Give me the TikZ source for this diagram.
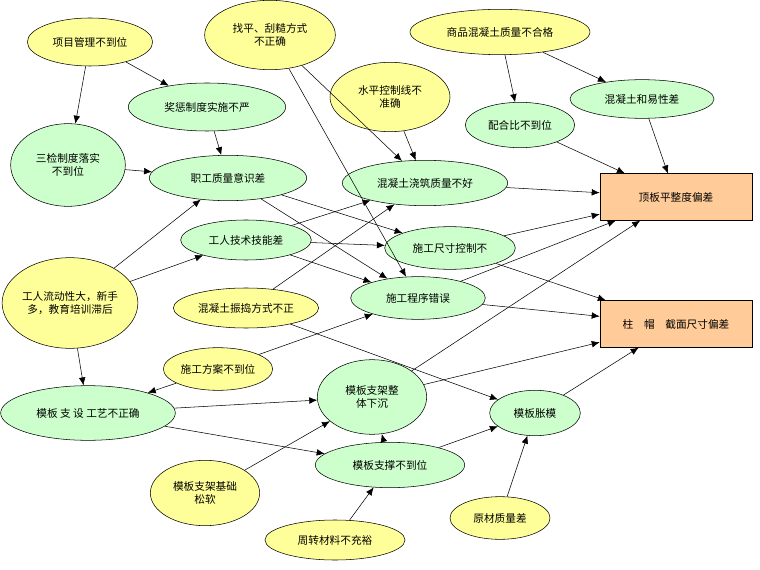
\documentclass[tikz,border=0pt]{standalone}
\usepackage{fontspec}
\setmainfont{Noto Sans CJK SC}
\usetikzlibrary{shapes.geometric,arrows.meta}
\definecolor{cyel}{RGB}{255,255,153}
\definecolor{cgrn}{RGB}{204,255,204}
\definecolor{cora}{RGB}{255,204,153}
\tikzset{
	cause/.style={ellipse, draw, fill=cyel, inner sep=0pt, font=\footnotesize, align=center},
	mid/.style={ellipse, draw, fill=cgrn, inner sep=0pt, font=\footnotesize, align=center},
	effect/.style={rectangle, draw, fill=cora, font=\footnotesize, minimum width=114pt, minimum height=35pt},
	link/.style={-{Latex[length=6pt,width=5pt]}}
}
\begin{document}
\begin{tikzpicture}[x=0.75pt, y=-0.75pt]
		\useasboundingbox (0,0) rectangle (760,570);
		% top row
		\node[cause, minimum width=94pt, minimum height=36pt] (xm) at (90,42) {项目管理不到位};
		\node[cause, minimum width=98pt, minimum height=52pt] (zp) at (270,35) {找平、刮糙方式\\不正确};
		\node[cause, minimum width=135pt, minimum height=34pt] (sp) at (500,32) {商品混凝土质量不合格};
		\node[cause, minimum width=90pt, minimum height=52pt] (sk) at (390,97) {水平控制线不\\准确};
		% middle nodes
		\node[mid, minimum width=118pt, minimum height=36pt] (jc) at (207,107) {奖惩制度实施不严};
		\node[mid, minimum width=86pt, minimum height=62pt] (sj) at (68,165) {三检制度落实\\不到位};
		\node[mid, minimum width=118pt, minimum height=34pt] (zg) at (228,178) {职工质量意识差};
		\node[mid, minimum width=82pt, minimum height=34pt] (ph) at (520,125) {配合比不到位};
		\node[mid, minimum width=108pt, minimum height=29pt] (hy) at (642,99) {混凝土和易性差};
		\node[mid, minimum width=124pt, minimum height=34pt] (jz) at (425,183) {混凝土浇筑质量不好};
		\node[mid, minimum width=98pt, minimum height=30pt] (gr) at (246,240) {工人技术技能差};
		\node[mid, minimum width=98pt, minimum height=32pt] (sc) at (450,248) {施工尺寸控制不};
		\node[cause, minimum width=101pt, minimum height=68pt] (ld) at (70,303) {工人流动性大，新手\\多，教育培训滞后};
		\node[cause, minimum width=109pt, minimum height=30pt] (zd) at (246,308) {混凝土振捣方式不正};
		\node[mid, minimum width=101pt, minimum height=32pt] (cx) at (418,298) {施工程序错误};
		\node[cause, minimum width=82pt, minimum height=32pt] (fa) at (218,369) {施工方案不到位};
		\node[mid, minimum width=131pt, minimum height=41pt] (mb) at (88,413) {模板 支 设 工艺不正确};
		\node[mid, minimum width=82pt, minimum height=56pt] (xc) at (372,397) {模板支架整\\体下沉};
		\node[mid, minimum width=68pt, minimum height=34pt] (zm) at (535,413) {模板胀模};
		\node[mid, minimum width=112pt, minimum height=34pt] (cd) at (390,465) {模板支撑不到位};
		\node[cause, minimum width=82pt, minimum height=49pt] (jd) at (205,493) {模板支架基础\\松软};
		\node[cause, minimum width=105pt, minimum height=30pt] (zz) at (335,540) {周转材料不充裕};
		\node[cause, minimum width=75pt, minimum height=32pt] (yc) at (500,518) {原材质量差};
		% effects
		\node[effect] (top) at (676,197) {顶板平整度偏差};
		\node[effect] (bot) at (676,324) {柱\quad 帽\quad 截面尺寸偏差};
		% connectors
		\draw[link] (xm) -- (sj);
		\draw[link] (xm) -- (jc);
		\draw[link] (jc) -- (zg);
		\draw[link] (sj) -- (zg);
		\draw[link] (ld) -- (zg);
		\draw[link] (ld) -- (gr);
		\draw[link] (ld) -- (mb);
		\draw[link] (zp) -- (jz);
		\draw[link] (zp) -- (cx);
		\draw[link] (sk) -- (jz);
		\draw[link] (sp) -- (ph);
		\draw[link] (sp) -- (hy);
		\draw[link] (ph) -- (top);
		\draw[link] (hy) -- (top);
		\draw[link] (jz) -- (top);
		\draw[link] (zg) -- (sc);
		\draw[link] (zg) -- (cx);
		\draw[link] (gr) -- (jz);
		\draw[link] (gr) -- (sc);
		\draw[link] (gr) -- (cx);
		\draw[link] (sc) -- (top);
		\draw[link] (sc) -- (bot);
		\draw[link] (cx) -- (top);
		\draw[link] (cx) -- (bot);
		\draw[link] (zd) -- (jz);
		\draw[link] (zd) -- (zm);
		\draw[link] (fa) -- (cx);
		\draw[link] (fa) -- (mb);
		\draw[link] (mb) -- (xc);
		\draw[link] (mb) -- (cd);
		\draw[link] (jd) -- (xc);
		\draw[link] (zz) -- (cd);
		\draw[link] (cd) -- (xc);
		\draw[link] (cd) -- (zm);
		\draw[link] (yc) -- (zm);
		\draw[link] (xc) -- (top);
		\draw[link] (xc) -- (bot);
		\draw[link] (zm) -- (bot);
\end{tikzpicture}
\end{document}
